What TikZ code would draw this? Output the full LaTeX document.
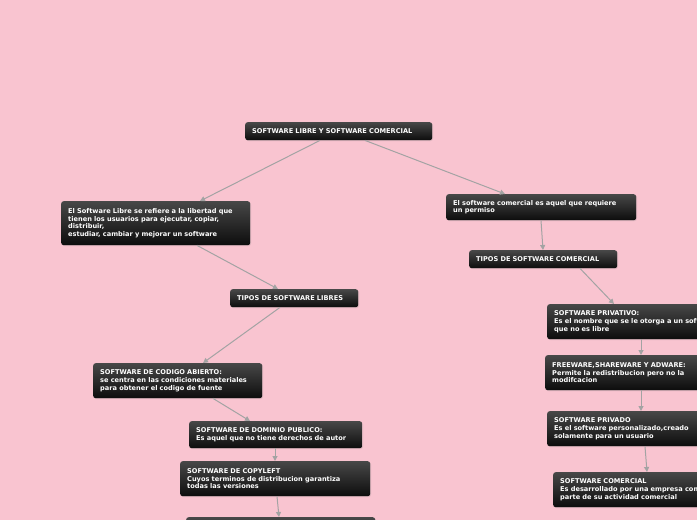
\documentclass[tikz,border=0pt]{standalone}
\usepackage{fontspec}
\setmainfont{DejaVu Sans}
\usetikzlibrary{calc,shadows,arrows.meta}
\definecolor{bg}{HTML}{F9C4D0}
\definecolor{lk}{HTML}{A3A3A3}
\tikzset{
 bx/.style={anchor=north west, rounded corners=2.5pt, top color=black!72, bottom color=black!95, draw=none,
   text=white, font=\bfseries\fontsize{6.6}{7.8}\selectfont, align=left, inner xsep=7pt, inner ysep=0pt,
   drop shadow={opacity=0.25,shadow xshift=0.8pt,shadow yshift=-0.8pt}},
 lk/.style={draw=lk, line width=1pt, -{Triangle[length=5pt,width=5pt]}}
}
\newcommand{\bxn}[6]{\node[bx, minimum width=#4pt, minimum height=#5pt, text width=#4pt-14pt] (#1) at (#2pt,-#3pt) {#6};}
\begin{document}
\begin{tikzpicture}[x=1pt,y=1pt]
\useasboundingbox[fill=bg] (0,0) rectangle (697,-520);
\bxn{root}{245}{122}{187}{18}{\centering SOFTWARE LIBRE Y SOFTWARE COMERCIAL}
\bxn{libre}{61}{201}{189}{44}{El Software Libre se refiere a la libertad que\\tienen los usuarios para ejecutar, copiar,\\distribuir,\\estudiar, cambiar y mejorar un software}
\bxn{cdesc}{446}{194}{190}{26}{El software comercial es aquel que requiere\\un permiso}
\bxn{tcom}{469}{250}{148}{18}{TIPOS DE SOFTWARE COMERCIAL}
\bxn{tlib}{230}{289}{128}{18}{\centering TIPOS DE SOFTWARE LIBRES}
\bxn{cab}{93}{363}{169}{35}{SOFTWARE DE CODIGO ABIERTO:\\se centra en las condiciones materiales\\para obtener el codigo de fuente}
\bxn{dom}{189}{421}{173}{27}{SOFTWARE DE DOMINIO PUBLICO:\\Es aquel que no tiene derechos de autor}
\bxn{copy}{180}{461}{190}{35}{SOFTWARE DE COPYLEFT\\Cuyos terminos de distribucion garantiza\\todas las versiones}
\bxn{bot}{186}{517}{189}{30}{}
\bxn{priv}{547}{304}{200}{35}{SOFTWARE PRIVATIVO:\\Es el nombre que se le otorga a un software\\que no es libre}
\bxn{free}{545}{355}{200}{35}{FREEWARE,SHAREWARE Y ADWARE:\\Permite la redistribucion pero no la\\modifcacion}
\bxn{pdo}{547}{411}{200}{35}{SOFTWARE PRIVADO\\Es el software personalizado,creado\\solamente para un usuario}
\bxn{scom}{553}{472}{200}{35}{SOFTWARE COMERCIAL\\Es desarrollado por una empresa como\\parte de su actividad comercial}
\draw[lk] ($(root.south west)+(75,0)$) -- ($(libre.north west)+(139,0)$);
\draw[lk] ($(root.south west)+(120,0)$) -- ($(cdesc.north west)+(59,0)$);
\draw[lk] ($(libre.south west)+(136,0)$) -- ($(tlib.north west)+(48,0)$);
\draw[lk] ($(tlib.south west)+(50,0)$) -- ($(cab.north west)+(110,0)$);
\draw[lk] ($(cab.south west)+(120,0)$) -- ($(dom.north west)+(61,0)$);
\draw[lk] ($(dom.south west)+(86,0)$) -- ($(copy.north west)+(95,0)$);
\draw[lk] ($(copy.south west)+(97,0)$) -- ($(bot.north west)+(93,0)$);
\draw[lk] ($(cdesc.south west)+(95,0)$) -- ($(tcom.north west)+(74,0)$);
\draw[lk] ($(tcom.south west)+(111,0)$) -- ($(priv.north west)+(67,0)$);
\draw[lk] ($(priv.south west)+(94,0)$) -- ($(free.north west)+(96,0)$);
\draw[lk] ($(free.south west)+(96,0)$) -- ($(pdo.north west)+(94,0)$);
\draw[lk] ($(pdo.south west)+(98,0)$) -- ($(scom.north west)+(94,0)$);
\end{tikzpicture}
\end{document}
